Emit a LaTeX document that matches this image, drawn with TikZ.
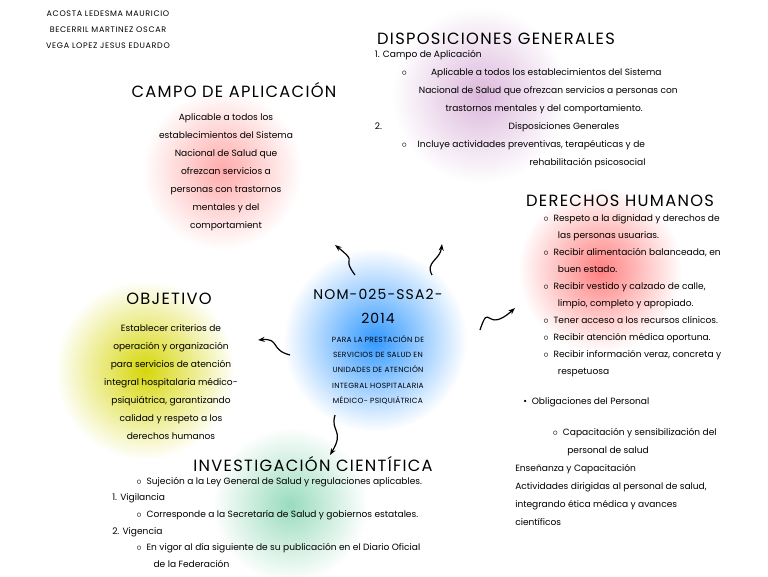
\documentclass[tikz,border=0pt]{standalone}
\usepackage{fontspec}
\setmainfont{Poppins}
\usetikzlibrary{arrows.meta}
\begin{document}
\begin{tikzpicture}[x=0.75pt,y=-0.75pt,
  body/.style={font=\fontsize{6.8}{13.5}\selectfont, align=center, inner sep=0},
  bodyl/.style={font=\fontsize{6.8}{13.5}\selectfont, align=left, anchor=north west, inner sep=0},
  head/.style={font=\fontsize{12.2}{13}\selectfont\addfontfeature{LetterSpace=8}, inner sep=0},
  squig/.style={line width=0.9pt, -{Stealth[length=5pt,open]}}]
\useasboundingbox (0,0) rectangle (768,576);
\fill[white] (0,0) rectangle (768,576);
\shade[inner color=pink!70!red!70, outer color=white] (222,170) circle (80);
\shade[inner color=violet!28, outer color=white] (480,95) circle (88);
\shade[inner color=red!50, outer color=white] (600,270) circle (82);
\shade[inner color=yellow!60!olive!80, outer color=white] (145,370) circle (90);
\shade[inner color=cyan!50!blue!80, outer color=white] (375,340) circle (92);
\shade[inner color=green!30!teal!40, outer color=white] (290,505) circle (78);
\node[body, font=\fontsize{6}{12}\selectfont\addfontfeature{LetterSpace=8}] (authors) at (108,30) {ACOSTA LEDESMA MAURICIO\\BECERRIL MARTINEZ OSCAR\\VEGA LOPEZ JESUS EDUARDO};
\node[head] (campo) at (234,90) {CAMPO DE APLICACIÓN};
\node[body] (campot) at (226,172) {Aplicable a todos los\\establecimientos del Sistema\\Nacional de Salud que\\ofrezcan servicios a\\personas con trastornos\\mentales y del\\comportamient};
\node[head] (disp) at (496,39) {DISPOSICIONES GENERALES};
\node[bodyl] (dispt) at (372,50) {\hspace*{2pt}1. Campo de Aplicación\\
\hspace*{22pt}$\circ$\hspace{18pt}Aplicable a todos los establecimientos del Sistema\\
\hspace*{35pt}Nacional de Salud que ofrezcan servicios a personas con\\
\hspace*{55pt}trastornos mentales y del comportamiento.\\
\hspace*{2pt}2.\hspace{95pt}Disposiciones Generales\\
\hspace*{22pt}$\circ$\hspace{8pt}Incluye actividades preventivas, terapéuticas y de\\
\hspace*{118pt}rehabilitación psicosocial};
\node[head] (der) at (620,201) {DERECHOS HUMANOS};
\node[bodyl, font=\fontsize{6.8}{12.8}\selectfont] (dert) at (543,214) {%
$\circ$\ \ Respeto a la dignidad y derechos de\\\hspace*{11pt}las personas usuarias.\\
$\circ$\ \ Recibir alimentación balanceada, en\\\hspace*{11pt}buen estado.\\
$\circ$\ \ Recibir vestido y calzado de calle,\\\hspace*{11pt}limpio, completo y apropiado.\\
$\circ$\ \ Tener acceso a los recursos clínicos.\\
$\circ$\ \ Recibir atención médica oportuna.\\
$\circ$\ \ Recibir información veraz, concreta y\\\hspace*{11pt}respetuosa};
\node[bodyl] (oblig) at (523,397) {\textbullet\ \ Obligaciones del Personal\\[10pt]
\hspace*{22pt}$\circ$\ \ Capacitación y sensibilización del\\
\hspace*{33pt}personal de salud\\
\hspace*{-6pt}Enseñanza y Capacitación\\
\hspace*{-6pt}Actividades dirigidas al personal de salud,\\
\hspace*{-6pt}integrando ética médica y avances\\
\hspace*{-6pt}científicos};
\node[head] (obj) at (169,299) {OBJETIVO};
\node[body] (objt) at (171,382) {Establecer criterios de\\operación y organización\\para servicios de atención\\integral hospitalaria médico-\\psiquiátrica, garantizando\\calidad y respeto a los\\derechos humanos};
\node[head, align=center, font=\fontsize{10.5}{18}\selectfont\addfontfeature{LetterSpace=8}] (nom) at (378,306) {NOM-025-SSA2-\\2014};
\node[body, font=\fontsize{5.6}{11.5}\selectfont\addfontfeature{LetterSpace=4}] (nomt) at (378,370) {PARA LA PRESTACIÓN DE\\SERVICIOS DE SALUD EN\\UNIDADES DE ATENCIÓN\\INTEGRAL HOSPITALARIA\\MÉDICO- PSIQUIÁTRICA};
\node[head] (inv) at (313,464) {INVESTIGACIÓN CIENTÍFICA};
\node[bodyl, font=\fontsize{6.8}{12.4}\selectfont] (invt) at (112,477) {\hspace*{18pt}$\circ$\ \ Sujeción a la Ley General de Salud y regulaciones aplicables.\\
1. Vigilancia\\
\hspace*{18pt}$\circ$\ \ Corresponde a la Secretaría de Salud y gobiernos estatales.\\
2. Vigencia\\
\hspace*{18pt}$\circ$\ \ En vigor al día siguiente de su publicación en el Diario Oficial\\
\hspace*{31pt}de la Federación};
\coordinate (a1) at (355,275); \coordinate (a2) at (432,275);
\coordinate (a3) at (480,330); \coordinate (a4) at (290,355);
\coordinate (a5) at (335,415);
\draw[squig] (a1) .. controls (340,255) and (360,265) .. (335,245);
\draw[squig] (a2) .. controls (425,262) and (440,260) .. (442,244);
\draw[squig] (a3) .. controls (490,300) and (485,335) .. (515,308);
\draw[squig] (a4) .. controls (270,350) and (280,338) .. (258,340);
\draw[squig] (a5) .. controls (330,432) and (345,430) .. (330,455);
\end{tikzpicture}
\end{document}
